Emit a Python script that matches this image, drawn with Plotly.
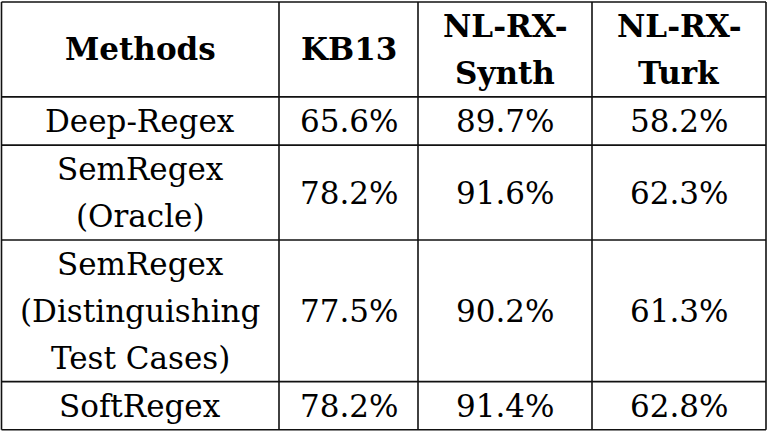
import numpy as np
import plotly.graph_objects as go

# column titles
headers = ['Methods', 'KB13', 'NL-RX-<br>Synth', 'NL-RX-<br>Turk']

methods = [
    'Deep-Regex',
    'SemRegex<br>(Oracle)',
    'SemRegex<br>(Distinguishing<br>Test Cases)',
    'SoftRegex',
]
kb13 = ['65.6%', '78.2%', '77.5%', '78.2%']
nl_rx_synth = ['89.7%', '91.6%', '90.2%', '91.4%']
nl_rx_turk = ['58.2%', '62.3%', '61.3%', '62.8%']

# table geometry in pixels (axis units)
W, H = 770, 437
col_widths = [277.5, 139, 174, 174]
line_h = 46.7
left, top = 1.5, 2.0
font_family = 'DejaVu Serif'
font_size = 31

columns = [methods, kb13, nl_rx_synth, nl_rx_turk]
rows = [headers] + [list(r) for r in zip(*columns)]

# each row is as tall as its longest cell
n_lines = [max(c.count('<br>') + 1 for c in r) for r in rows]
row_heights = [line_h * n + 1.5 for n in n_lines]

x_edges = left + np.concatenate([[0], np.cumsum(col_widths)])
y_edges = top + np.concatenate([[0], np.cumsum(row_heights)])

fig = go.Figure()

# grid lines
for x in x_edges:
    fig.add_shape(type='line', x0=x, x1=x, y0=y_edges[0], y1=y_edges[-1],
                  line=dict(color='#111', width=1.6))
for y in y_edges:
    fig.add_shape(type='line', x0=x_edges[0], x1=x_edges[-1], y0=y, y1=y,
                  line=dict(color='#111', width=1.6))

# cell texts, one annotation per text line so the line spacing can be set
for i, row in enumerate(rows):
    yc = (y_edges[i] + y_edges[i + 1]) / 2
    for j, txt in enumerate(row):
        xc = (x_edges[j] + x_edges[j + 1]) / 2
        lines = txt.split('<br>')
        for k, line in enumerate(lines):
            fig.add_annotation(
                x=xc, y=yc + (k - (len(lines) - 1) / 2) * line_h,
                text=f'<b>{line}</b>' if i == 0 else line,
                showarrow=False,
                xanchor='center', yanchor='middle', align='center',
                font=dict(family=font_family, size=font_size, color='black'),
            )

fig.update_xaxes(range=[0, W], visible=False, fixedrange=True)
fig.update_yaxes(range=[H, 0], visible=False, fixedrange=True)

fig.update_layout(
    width=W,
    height=H,
    margin=dict(l=0, r=0, t=0, b=0),
    paper_bgcolor='white',
    plot_bgcolor='white',
    showlegend=False,
)

# drop the browser's default 8px body margin so the figure fills the window
fig.write_html('out.html', config={'displayModeBar': False},
               post_script="document.body.style.margin = '0';")
